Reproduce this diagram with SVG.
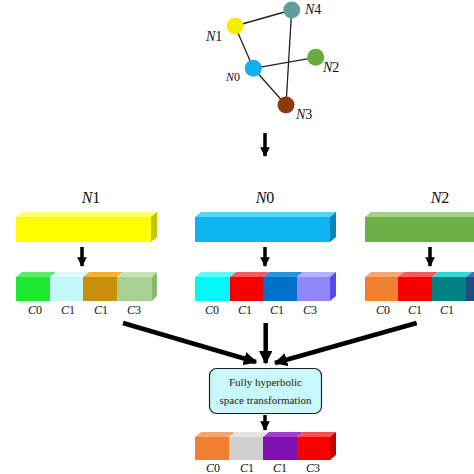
<svg xmlns="http://www.w3.org/2000/svg" width="474" height="474" viewBox="0 0 474 474">
<style>
.edge{stroke:#222;stroke-width:1.3;fill:none}
.lbl{font-family:"Liberation Serif",serif;font-style:italic;fill:#111}
.lbl tspan.d{font-style:normal}
.big{stroke:#000;stroke-width:4.5;fill:none}
.sm{stroke:#000;stroke-width:3.5;fill:none}
.bt{font-family:"Liberation Serif",serif;font-size:11px;fill:#222;text-anchor:middle}
</style>
<defs>
<marker id="ah" viewBox="0 0 10 10" refX="9" refY="5" markerWidth="3" markerHeight="3" orient="auto"><path d="M0,0 L10,5 L0,10 z" fill="#000"/></marker>
<marker id="as" viewBox="0 0 10 10" refX="9" refY="5" markerWidth="2.8" markerHeight="3" orient="auto"><path d="M0,0 L10,5 L0,10 z" fill="#000"/></marker>
</defs>

<g id="graph-edges">
<line class="edge" x1="235" y1="26" x2="291.7" y2="10"/>
<line class="edge" x1="235" y1="26" x2="253.3" y2="68.3"/>
<line class="edge" x1="253.3" y1="68.3" x2="315.7" y2="57.3"/>
<line class="edge" x1="253.3" y1="68.3" x2="286" y2="105"/>
<line class="edge" x1="291.7" y1="10" x2="286" y2="105"/>
</g>
<g id="gN4"><circle cx="291.7" cy="10" r="8.5" fill="#5f9e9c"/><text class="lbl" x="305" y="14" font-size="14">N<tspan class="d">4</tspan></text></g>
<g id="gN1"><circle cx="235" cy="26" r="8.5" fill="#f4f000"/><text class="lbl" x="206" y="41" font-size="14">N<tspan class="d">1</tspan></text></g>
<g id="gN2"><circle cx="315.7" cy="57.3" r="8.5" fill="#6aaa40"/><text class="lbl" x="323" y="72" font-size="14">N<tspan class="d">2</tspan></text></g>
<g id="gN0"><circle cx="253.3" cy="68.3" r="8.5" fill="#14b0ee"/><text class="lbl" x="226" y="81" font-size="12">N<tspan class="d">0</tspan></text></g>
<g id="gN3"><circle cx="286" cy="105" r="8.5" fill="#8b3a0e"/><text class="lbl" x="296" y="119" font-size="14">N<tspan class="d">3</tspan></text></g>

<g id="connectors">
<line class="sm" x1="265" y1="133" x2="265" y2="156" marker-end="url(#as)"/>
<line class="sm" x1="82" y1="247" x2="82" y2="266" marker-end="url(#as)"/>
<line class="sm" x1="265" y1="247" x2="265" y2="266" marker-end="url(#as)"/>
<line class="sm" x1="430" y1="247" x2="430" y2="266" marker-end="url(#as)"/>
<line class="big" x1="123" y1="323" x2="256" y2="362" marker-end="url(#ah)"/>
<line class="big" x1="265.7" y1="323" x2="265.7" y2="363" marker-end="url(#ah)"/>
<line class="big" x1="416.7" y1="323" x2="275" y2="363" marker-end="url(#ah)"/>
<line class="sm" x1="265" y1="415" x2="265" y2="430" marker-end="url(#as)"/>
</g>

<g id="barN1">
<text class="lbl" x="91" y="203" font-size="16" text-anchor="middle">N<tspan class="d">1</tspan></text>
<polygon points="16,217 22,212 157,212 151,217" fill="#ffff70"/>
<polygon points="151,217 157,212 157,237 151,242" fill="#c8c400"/>
<rect x="16" y="217" width="135" height="25" fill="#ffff00"/>
</g>
<g id="barN0">
<text class="lbl" x="265" y="203" font-size="16" text-anchor="middle">N<tspan class="d">0</tspan></text>
<polygon points="195,217 201,212 336,212 330,217" fill="#5cd2f8"/>
<polygon points="330,217 336,212 336,237 330,242" fill="#0a84b8"/>
<rect x="195" y="217" width="135" height="25" fill="#0cb4f0"/>
</g>
<g id="barN2">
<text class="lbl" x="440" y="203" font-size="16" text-anchor="middle">N<tspan class="d">2</tspan></text>
<polygon points="365,217 371,212 480,212 480,217" fill="#a4d088"/>
<rect x="365" y="217" width="115" height="25" fill="#6cae48"/>
</g>

<g id="cellsN1">
<polygon points="16,277 22,272 56,272 50,277" fill="#60ec6a"/>
<polygon points="50,277 56,272 89,272 83,277" fill="#e0fcfc"/>
<polygon points="83,277 89,272 123,272 117,277" fill="#f2b234"/>
<polygon points="117,277 123,272 157,272 152,277" fill="#c8e2b8"/>
<polygon points="152,277 157,272 157,296 152,301" fill="#86bc6c"/>
<rect x="16" y="277" width="34" height="24" fill="#1ee830"/>
<rect x="50" y="277" width="33" height="24" fill="#c4f8f8"/>
<rect x="83" y="277" width="34" height="24" fill="#c88e0c"/>
<rect x="117" y="277" width="35" height="24" fill="#a8d090"/>
<text class="lbl" font-size="12" y="314" text-anchor="middle"><tspan x="35">C<tspan class="d">0</tspan></tspan><tspan x="68">C<tspan class="d">1</tspan></tspan><tspan x="101">C<tspan class="d">1</tspan></tspan><tspan x="134">C<tspan class="d">3</tspan></tspan></text>
</g>
<g id="cellsN0">
<polygon points="195,277 201,272 236,272 230,277" fill="#60fafa"/>
<polygon points="230,277 236,272 269,272 263,277" fill="#f85a5a"/>
<polygon points="263,277 269,272 303,272 297,277" fill="#2a92e0"/>
<polygon points="297,277 303,272 336,272 330,277" fill="#b4b0fa"/>
<polygon points="330,277 336,272 336,296 330,301" fill="#5a48e8"/>
<rect x="195" y="277" width="35" height="24" fill="#00f8f8"/>
<rect x="230" y="277" width="33" height="24" fill="#f80000"/>
<rect x="263" y="277" width="34" height="24" fill="#0070c8"/>
<rect x="297" y="277" width="33" height="24" fill="#9088f8"/>
<text class="lbl" font-size="12" y="314" text-anchor="middle"><tspan x="212">C<tspan class="d">0</tspan></tspan><tspan x="245">C<tspan class="d">1</tspan></tspan><tspan x="277">C<tspan class="d">1</tspan></tspan><tspan x="310">C<tspan class="d">3</tspan></tspan></text>
</g>
<g id="cellsN2">
<polygon points="365,277 371,272 404,272 398,277" fill="#f4a878"/>
<polygon points="398,277 404,272 438,272 432,277" fill="#f85a5a"/>
<polygon points="432,277 438,272 472,272 466,277" fill="#30d8d8"/>
<polygon points="466,277 472,272 480,272 480,277" fill="#4070c0"/>
<rect x="365" y="277" width="33" height="24" fill="#f08030"/>
<rect x="398" y="277" width="34" height="24" fill="#f80000"/>
<rect x="432" y="277" width="34" height="24" fill="#008080"/>
<rect x="466" y="277" width="14" height="24" fill="#204a84"/>
<text class="lbl" font-size="12" y="314" text-anchor="middle"><tspan x="383">C<tspan class="d">0</tspan></tspan><tspan x="415">C<tspan class="d">1</tspan></tspan><tspan x="447">C<tspan class="d">1</tspan></tspan></text>
</g>

<g id="transform">
<rect x="209.5" y="368.5" width="112" height="45" rx="7" fill="#c8f8fa" stroke="#222" stroke-width="1.2"/>
<text class="bt" x="265.5" y="386">Fully hyperbolic</text>
<text class="bt" x="265.5" y="404">space transformation</text>
</g>

<g id="cellsOut">
<polygon points="195,437 201,432 235,432 229,437" fill="#f4a870"/>
<polygon points="229,437 235,432 269,432 263,437" fill="#e4e4e4"/>
<polygon points="263,437 269,432 303,432 297,437" fill="#a040d0"/>
<polygon points="297,437 303,432 336,432 330,437" fill="#f85050"/>
<polygon points="330,437 336,432 336,455 330,460" fill="#c00000"/>
<rect x="195" y="437" width="34" height="23" fill="#f08030"/>
<rect x="229" y="437" width="34" height="23" fill="#d0d0d0"/>
<rect x="263" y="437" width="34" height="23" fill="#8010b0"/>
<rect x="297" y="437" width="33" height="23" fill="#f80000"/>
<text class="lbl" font-size="12" y="472" text-anchor="middle"><tspan x="213">C<tspan class="d">0</tspan></tspan><tspan x="247">C<tspan class="d">1</tspan></tspan><tspan x="280">C<tspan class="d">1</tspan></tspan><tspan x="313">C<tspan class="d">3</tspan></tspan></text>
</g>
</svg>
